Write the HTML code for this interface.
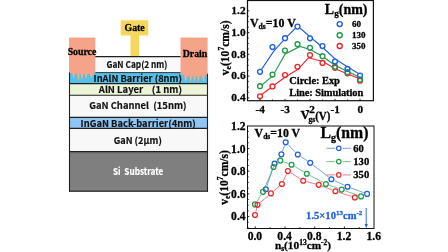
<!DOCTYPE html>
<html><head><meta charset="utf-8"><style>
html,body{margin:0;padding:0;background:#fff;}
svg{display:block;}
</style></head><body>
<svg width="448" height="252" viewBox="0 0 448 252">
<rect width="448" height="252" fill="#fff"/>
<rect x="69.0" y="72.5" width="139.0" height="11" fill="#55c1e8"/>
<rect x="69.0" y="83.5" width="139.0" height="12" fill="#ecf5d8"/>
<rect x="69.0" y="95.5" width="139.0" height="22" fill="#f8f8f8"/>
<rect x="69.0" y="117.5" width="139.0" height="11" fill="#8fc6f3"/>
<rect x="69.0" y="128.5" width="139.0" height="23" fill="#f8f8f8"/>
<rect x="69.0" y="151.5" width="139.0" height="40" fill="#7f7f7f"/>
<line x1="69.0" y1="190.1" x2="208.0" y2="190.1" stroke="#999" stroke-width="0.9"/>
<line x1="69.0" y1="153" x2="208.0" y2="153" stroke="#727272" stroke-width="1.2"/>
<rect x="95.3" y="57" width="85.2" height="15.5" fill="#f9f9f9"/>
<rect x="130.5" y="35" width="8.5" height="21.5" fill="#f7d65c"/>
<rect x="120.7" y="20.3" width="27.6" height="15.2" fill="#f7d65c"/>
<defs><linearGradient id="sp" x1="0" y1="0" x2="0" y2="1"><stop offset="0" stop-color="#f5a489"/><stop offset="0.45" stop-color="#f5a489"/><stop offset="1" stop-color="#f8b874"/></linearGradient></defs>
<polygon points="69,37.8 95.3,37.8 95.3,72.8 94,72.8 93,74.5 91.5,78.2 90,74.2 88.5,73.8 87.2,74.4 86.1,78.8 85,74.2 84,73.8 83,74.4 82,79.7 81,74.6 80.2,74.2 79.4,74.8 78.5,80.7 77.5,74.6 75.9,73.8 74.6,74.5 73.7,78.2 72.5,74.2 70.5,72.8 69,72.8" fill="#f5a489"/>
<polygon points="180.5,37.8 207.6,37.8 207.6,75 205.5,75 204.4,77.5 203.4,81.5 202.2,77 200.5,76 199.3,77 198.4,81.8 197.5,77 196.5,76 195.3,77 194.4,81.8 193.6,77 192.5,76 191.5,77 190.7,81.8 189.8,77 188,76 186.7,77.5 185.7,81.8 184.6,77 183,74.4 180.5,74.4" fill="#f5a489"/>
<line x1="69.2" y1="38.3" x2="95.1" y2="38.3" stroke="#f59e70" stroke-width="0.9"/>
<line x1="180.7" y1="38.3" x2="207.4" y2="38.3" stroke="#f59e70" stroke-width="0.9"/>
<polygon points="91.5,78.2 90.4,74.5 92.6,74.5" fill="#f8b676"/>
<polygon points="86.1,78.8 85.1,74.6 87.1,74.6" fill="#f8b676"/>
<polygon points="82,79.7 81,74.8 83,74.8" fill="#f8b676"/>
<polygon points="78.5,80.7 77.5,75 79.5,75" fill="#f8b676"/>
<polygon points="73.7,78.2 72.7,74.5 74.7,74.5" fill="#f8b676"/>
<polygon points="203.4,81.5 202.4,77.3 204.4,77.3" fill="#f8b676"/>
<polygon points="198.4,81.8 197.4,77.3 199.4,77.3" fill="#f8b676"/>
<polygon points="194.4,81.8 193.4,77.3 195.4,77.3" fill="#f8b676"/>
<polygon points="190.7,81.8 189.7,77.3 191.7,77.3" fill="#f8b676"/>
<polygon points="185.7,81.8 184.7,77.3 186.7,77.3" fill="#f8b676"/>
<line x1="95.3" y1="56.6" x2="180.5" y2="56.6" stroke="#202020" stroke-width="1.1"/>
<line x1="95.3" y1="72.6" x2="180.5" y2="72.6" stroke="#202020" stroke-width="0.9"/>
<line x1="69.0" y1="83.6" x2="208.0" y2="83.6" stroke="#202020" stroke-width="1.1"/>
<line x1="69.0" y1="95.2" x2="208.0" y2="95.2" stroke="#202020" stroke-width="1.1"/>
<line x1="69.0" y1="117.4" x2="208.0" y2="117.4" stroke="#202020" stroke-width="1.1"/>
<line x1="69.0" y1="128.4" x2="208.0" y2="128.4" stroke="#202020" stroke-width="1.1"/>
<line x1="69.0" y1="151.6" x2="208.0" y2="151.6" stroke="#202020" stroke-width="1.1"/>
<line x1="69.0" y1="72.5" x2="69.1" y2="72.5" stroke="none"/>
<line x1="69.5" y1="72.5" x2="69.5" y2="191.6" stroke="#202020" stroke-width="1.1"/>
<line x1="207.5" y1="74" x2="207.5" y2="191.6" stroke="#202020" stroke-width="1.1"/>
<line x1="69.0" y1="191.1" x2="208.0" y2="191.1" stroke="#202020" stroke-width="1.1"/>
<text x="82" y="54.7" style="font-family:'Liberation Serif',serif;font-weight:bold;stroke:#000;stroke-width:0.28px;font-size:9.8px" text-anchor="middle" fill="#000">Source</text>
<text x="134.6" y="31.3" style="font-family:'Liberation Serif',serif;font-weight:bold;stroke:#000;stroke-width:0.28px;font-size:9.8px" text-anchor="middle" fill="#000">Gate</text>
<text x="195" y="57" style="font-family:'Liberation Serif',serif;font-weight:bold;stroke:#000;stroke-width:0.28px;font-size:9.8px" text-anchor="middle" fill="#000">Drain</text>
<text x="106.5" y="68" style="font-family:'Noto Sans CJK SC',sans-serif;font-weight:bold;font-size:9.2px;stroke:#111;stroke-width:0.15px" textLength="61" lengthAdjust="spacingAndGlyphs" fill="#111">GaN Cap(2 nm)</text>
<text x="93.6" y="82.2" style="font-family:'Noto Sans CJK SC',sans-serif;font-weight:bold;font-size:9.2px;stroke:#111;stroke-width:0.15px" textLength="88.4" lengthAdjust="spacingAndGlyphs" fill="#111">InAlN Barrier (8nm)</text>
<text x="98.8" y="93.3" style="font-family:'Noto Sans CJK SC',sans-serif;font-weight:bold;font-size:9.2px;stroke:#111;stroke-width:0.15px" textLength="83.2" lengthAdjust="spacingAndGlyphs" fill="#111">AlN Layer&#160;&#160;&#160; (1 nm)</text>
<text x="89.2" y="108.6" style="font-family:'Noto Sans CJK SC',sans-serif;font-weight:bold;font-size:9.2px;stroke:#111;stroke-width:0.15px" textLength="97.4" lengthAdjust="spacingAndGlyphs" fill="#111">GaN Channel&#160; (15nm)</text>
<text x="80.6" y="126.6" style="font-family:'Noto Sans CJK SC',sans-serif;font-weight:bold;font-size:9.2px;stroke:#111;stroke-width:0.15px" textLength="115.2" lengthAdjust="spacingAndGlyphs" fill="#111">InGaN Back-barrier(4nm)</text>
<text x="113.7" y="143.8" style="font-family:'Noto Sans CJK SC',sans-serif;font-weight:bold;font-size:9.2px;stroke:#111;stroke-width:0.15px" textLength="48.2" lengthAdjust="spacingAndGlyphs" fill="#111">GaN (2&#181;m)</text>
<text x="113" y="174.8" style="font-family:'Noto Sans CJK SC',sans-serif;font-weight:bold;font-size:9.2px;stroke:#fff;stroke-width:0.15px" textLength="50.3" lengthAdjust="spacingAndGlyphs" fill="#fff">Si&#160; Substrate</text>
<rect x="247.5" y="0.5" width="125.9" height="100.2" fill="none" stroke="#111" stroke-width="1.2"/>
<line x1="247.5" y1="97.89" x2="249.3" y2="97.89" stroke="#111" stroke-width="0.9"/>
<line x1="247.5" y1="92.45" x2="248.7" y2="92.45" stroke="#111" stroke-width="0.9"/>
<line x1="247.5" y1="87.01" x2="248.7" y2="87.01" stroke="#111" stroke-width="0.9"/>
<line x1="247.5" y1="81.57" x2="248.7" y2="81.57" stroke="#111" stroke-width="0.9"/>
<line x1="247.5" y1="76.13" x2="249.3" y2="76.13" stroke="#111" stroke-width="0.9"/>
<line x1="247.5" y1="70.69" x2="248.7" y2="70.69" stroke="#111" stroke-width="0.9"/>
<line x1="247.5" y1="65.25" x2="248.7" y2="65.25" stroke="#111" stroke-width="0.9"/>
<line x1="247.5" y1="59.81" x2="248.7" y2="59.81" stroke="#111" stroke-width="0.9"/>
<line x1="247.5" y1="54.37" x2="249.3" y2="54.37" stroke="#111" stroke-width="0.9"/>
<line x1="247.5" y1="48.93" x2="248.7" y2="48.93" stroke="#111" stroke-width="0.9"/>
<line x1="247.5" y1="43.49" x2="248.7" y2="43.49" stroke="#111" stroke-width="0.9"/>
<line x1="247.5" y1="38.05" x2="248.7" y2="38.05" stroke="#111" stroke-width="0.9"/>
<line x1="247.5" y1="32.61" x2="249.3" y2="32.61" stroke="#111" stroke-width="0.9"/>
<line x1="247.5" y1="27.17" x2="248.7" y2="27.17" stroke="#111" stroke-width="0.9"/>
<line x1="247.5" y1="21.73" x2="248.7" y2="21.73" stroke="#111" stroke-width="0.9"/>
<line x1="247.5" y1="16.29" x2="248.7" y2="16.29" stroke="#111" stroke-width="0.9"/>
<line x1="247.5" y1="10.85" x2="249.3" y2="10.85" stroke="#111" stroke-width="0.9"/>
<line x1="260" y1="100.7" x2="260" y2="98.9" stroke="#111" stroke-width="0.9"/>
<line x1="272.5" y1="100.7" x2="272.5" y2="99.5" stroke="#111" stroke-width="0.9"/>
<line x1="285" y1="100.7" x2="285" y2="98.9" stroke="#111" stroke-width="0.9"/>
<line x1="297.5" y1="100.7" x2="297.5" y2="99.5" stroke="#111" stroke-width="0.9"/>
<line x1="310" y1="100.7" x2="310" y2="98.9" stroke="#111" stroke-width="0.9"/>
<line x1="322.5" y1="100.7" x2="322.5" y2="99.5" stroke="#111" stroke-width="0.9"/>
<line x1="335" y1="100.7" x2="335" y2="98.9" stroke="#111" stroke-width="0.9"/>
<line x1="347.5" y1="100.7" x2="347.5" y2="99.5" stroke="#111" stroke-width="0.9"/>
<line x1="360" y1="100.7" x2="360" y2="98.9" stroke="#111" stroke-width="0.9"/>
<text x="245.6" y="14.05" style="font-family:'Liberation Serif',serif;font-weight:bold;stroke:#000;stroke-width:0.28px;font-size:11.4px" text-anchor="end" fill="#000">1.2</text>
<text x="245.6" y="35.81" style="font-family:'Liberation Serif',serif;font-weight:bold;stroke:#000;stroke-width:0.28px;font-size:11.4px" text-anchor="end" fill="#000">1.0</text>
<text x="245.6" y="57.57" style="font-family:'Liberation Serif',serif;font-weight:bold;stroke:#000;stroke-width:0.28px;font-size:11.4px" text-anchor="end" fill="#000">0.8</text>
<text x="245.6" y="79.33" style="font-family:'Liberation Serif',serif;font-weight:bold;stroke:#000;stroke-width:0.28px;font-size:11.4px" text-anchor="end" fill="#000">0.6</text>
<text x="245.6" y="101.09" style="font-family:'Liberation Serif',serif;font-weight:bold;stroke:#000;stroke-width:0.28px;font-size:11.4px" text-anchor="end" fill="#000">0.4</text>
<text x="260.2" y="112.6" style="font-family:'Liberation Serif',serif;font-weight:bold;stroke:#000;stroke-width:0.28px;font-size:11.2px" text-anchor="middle" fill="#000">-4</text>
<text x="285.2" y="112.6" style="font-family:'Liberation Serif',serif;font-weight:bold;stroke:#000;stroke-width:0.28px;font-size:11.2px" text-anchor="middle" fill="#000">-3</text>
<text x="310.2" y="112.6" style="font-family:'Liberation Serif',serif;font-weight:bold;stroke:#000;stroke-width:0.28px;font-size:11.2px" text-anchor="middle" fill="#000">-2</text>
<text x="335.2" y="112.6" style="font-family:'Liberation Serif',serif;font-weight:bold;stroke:#000;stroke-width:0.28px;font-size:11.2px" text-anchor="middle" fill="#000">-1</text>
<text x="360.2" y="112.6" style="font-family:'Liberation Serif',serif;font-weight:bold;stroke:#000;stroke-width:0.28px;font-size:11.2px" text-anchor="middle" fill="#000">0</text>
<text x="300.6" y="119.2" style="font-family:'Liberation Serif',serif;font-weight:bold;stroke:#000;stroke-width:0.28px;font-size:12.8px" fill="#000">V</text>
<text x="308.4" y="122.2" style="font-family:'Liberation Serif',serif;font-weight:bold;stroke:#000;stroke-width:0.28px;font-size:7.6px" fill="#000">gs</text>
<text x="315.2" y="120.2" style="font-family:'Liberation Serif',serif;font-weight:bold;stroke:#000;stroke-width:0.28px;font-size:12.2px" textLength="15.2" lengthAdjust="spacingAndGlyphs" fill="#000">(V)</text>
<text transform="translate(228.6,47.8) rotate(-90)" style="font-family:'Liberation Serif',serif;font-weight:bold;stroke:#000;stroke-width:0.28px;font-size:11.6px" text-anchor="middle" fill="#000">v<tspan style="font-size:7.5px" dy="2.5">e</tspan><tspan dy="-2.5">(10</tspan><tspan style="font-size:7.5px" dy="-4.5">7</tspan><tspan dy="4.5">cm/s)</tspan></text>
<text x="250.0" y="26.9" style="font-family:'Liberation Serif',serif;font-weight:bold;stroke:#000;stroke-width:0.28px;font-size:11.9px" fill="#000">V<tspan style="font-size:7.6px" dy="2.4">ds</tspan><tspan dy="-2.4">=10 V</tspan></text>
<text x="324.8" y="13.6" style="font-family:'Liberation Serif',serif;font-weight:bold;stroke:#000;stroke-width:0.28px;font-size:14px" fill="#000">L<tspan style="font-size:9.2px" dy="2.6">g</tspan><tspan dy="-2.6">(nm)</tspan></text>
<circle cx="339.7" cy="24.1" r="2.5" fill="none" stroke="#1f5fe0" stroke-width="1.4"/>
<text x="352.0" y="26.8" style="font-family:'Liberation Serif',serif;font-weight:bold;stroke:#000;stroke-width:0.28px;font-size:9px" fill="#000">60</text>
<circle cx="339.7" cy="35.3" r="2.5" fill="none" stroke="#1e9a4a" stroke-width="1.4"/>
<text x="352.0" y="38.2" style="font-family:'Liberation Serif',serif;font-weight:bold;stroke:#000;stroke-width:0.28px;font-size:9px" fill="#000">130</text>
<circle cx="339.7" cy="46.0" r="2.5" fill="none" stroke="#f0262a" stroke-width="1.4"/>
<text x="352.0" y="49.0" style="font-family:'Liberation Serif',serif;font-weight:bold;stroke:#000;stroke-width:0.28px;font-size:9px" fill="#000">350</text>
<text x="289.3" y="83.7" style="font-family:'Liberation Serif',serif;font-weight:bold;stroke:#000;stroke-width:0.28px;font-size:10.5px" fill="#000" textLength="50.6">Circle: Exp</text>
<text x="289.3" y="96.1" style="font-family:'Liberation Serif',serif;font-weight:bold;stroke:#000;stroke-width:0.28px;font-size:10.5px" fill="#000" textLength="74">Line: Simulation</text>
<defs><mask id="mr" maskUnits="userSpaceOnUse" x="0" y="0" width="448" height="252"><rect width="448" height="252" fill="#fff"/><circle cx="260" cy="96.3" r="2.0" fill="#000"/><circle cx="272.5" cy="86.4" r="2.0" fill="#000"/><circle cx="285" cy="75" r="2.0" fill="#000"/><circle cx="297.5" cy="66.8" r="2.0" fill="#000"/><circle cx="310" cy="55" r="2.0" fill="#000"/><circle cx="322.5" cy="62.9" r="2.0" fill="#000"/><circle cx="335" cy="67.8" r="2.0" fill="#000"/><circle cx="347.5" cy="73.3" r="2.0" fill="#000"/><circle cx="360" cy="80.7" r="2.0" fill="#000"/></mask><mask id="mg" maskUnits="userSpaceOnUse" x="0" y="0" width="448" height="252"><rect width="448" height="252" fill="#fff"/><circle cx="260" cy="86.2" r="2.0" fill="#000"/><circle cx="272.5" cy="74.5" r="2.0" fill="#000"/><circle cx="285" cy="50.6" r="2.0" fill="#000"/><circle cx="297.5" cy="44.2" r="2.0" fill="#000"/><circle cx="310" cy="47.8" r="2.0" fill="#000"/><circle cx="322.5" cy="56.2" r="2.0" fill="#000"/><circle cx="335" cy="66.7" r="2.0" fill="#000"/><circle cx="347.5" cy="72.2" r="2.0" fill="#000"/><circle cx="360" cy="79.6" r="2.0" fill="#000"/></mask><mask id="mb" maskUnits="userSpaceOnUse" x="0" y="0" width="448" height="252"><rect width="448" height="252" fill="#fff"/><circle cx="260" cy="71.8" r="2.0" fill="#000"/><circle cx="272.5" cy="47" r="2.0" fill="#000"/><circle cx="285" cy="38.2" r="2.0" fill="#000"/><circle cx="297.5" cy="26.6" r="2.0" fill="#000"/><circle cx="310" cy="38.3" r="2.0" fill="#000"/><circle cx="322.5" cy="46" r="2.0" fill="#000"/><circle cx="335" cy="61.6" r="2.0" fill="#000"/><circle cx="347.5" cy="68.9" r="2.0" fill="#000"/><circle cx="360" cy="75.6" r="2.0" fill="#000"/></mask></defs>
<g mask="url(#mr)"><polyline points="260,95.8 285.2,77 297.7,69.5 308.5,57.8 322.7,61.5 335.2,68.8 347.7,74 360.2,79" fill="none" stroke="#f0262a" stroke-width="1.1" stroke-opacity="1"/></g>
<g mask="url(#mg)"><polyline points="260,86.5 272.7,76 285.2,54 300,46.4 310.2,49.5 322.7,56.5 335.2,65.5 347.7,71.5 360.2,77.5" fill="none" stroke="#1e9a4a" stroke-width="1.1" stroke-opacity="1"/></g>
<g mask="url(#mb)"><polyline points="260,71.6 273.8,51.2 285,38.6 297.7,26 310.2,37 322.7,47.5 335.2,59 347.7,67 360.2,74.5" fill="none" stroke="#1f5fe0" stroke-width="1.1" stroke-opacity="1"/></g>
<circle cx="260" cy="96.3" r="2.45" fill="none" stroke="#f0262a" stroke-width="1.35"/>
<circle cx="272.5" cy="86.4" r="2.45" fill="none" stroke="#f0262a" stroke-width="1.35"/>
<circle cx="285" cy="75.0" r="2.45" fill="none" stroke="#f0262a" stroke-width="1.35"/>
<circle cx="297.5" cy="66.8" r="2.45" fill="none" stroke="#f0262a" stroke-width="1.35"/>
<circle cx="310" cy="55.0" r="2.45" fill="none" stroke="#f0262a" stroke-width="1.35"/>
<circle cx="322.5" cy="62.9" r="2.45" fill="none" stroke="#f0262a" stroke-width="1.35"/>
<circle cx="335" cy="67.8" r="2.45" fill="none" stroke="#f0262a" stroke-width="1.35"/>
<circle cx="347.5" cy="73.3" r="2.45" fill="none" stroke="#f0262a" stroke-width="1.35"/>
<circle cx="360" cy="80.7" r="2.45" fill="none" stroke="#f0262a" stroke-width="1.35"/>
<circle cx="260" cy="86.2" r="2.45" fill="none" stroke="#1e9a4a" stroke-width="1.35"/>
<circle cx="272.5" cy="74.5" r="2.45" fill="none" stroke="#1e9a4a" stroke-width="1.35"/>
<circle cx="285" cy="50.6" r="2.45" fill="none" stroke="#1e9a4a" stroke-width="1.35"/>
<circle cx="297.5" cy="44.2" r="2.45" fill="none" stroke="#1e9a4a" stroke-width="1.35"/>
<circle cx="310" cy="47.8" r="2.45" fill="none" stroke="#1e9a4a" stroke-width="1.35"/>
<circle cx="322.5" cy="56.2" r="2.45" fill="none" stroke="#1e9a4a" stroke-width="1.35"/>
<circle cx="335" cy="66.7" r="2.45" fill="none" stroke="#1e9a4a" stroke-width="1.35"/>
<circle cx="347.5" cy="72.2" r="2.45" fill="none" stroke="#1e9a4a" stroke-width="1.35"/>
<circle cx="360" cy="79.6" r="2.45" fill="none" stroke="#1e9a4a" stroke-width="1.35"/>
<circle cx="260" cy="71.8" r="2.45" fill="none" stroke="#1f5fe0" stroke-width="1.35"/>
<circle cx="272.5" cy="47.0" r="2.45" fill="none" stroke="#1f5fe0" stroke-width="1.35"/>
<circle cx="285" cy="38.2" r="2.45" fill="none" stroke="#1f5fe0" stroke-width="1.35"/>
<circle cx="297.5" cy="26.6" r="2.45" fill="none" stroke="#1f5fe0" stroke-width="1.35"/>
<circle cx="310" cy="38.3" r="2.45" fill="none" stroke="#1f5fe0" stroke-width="1.35"/>
<circle cx="322.5" cy="46.0" r="2.45" fill="none" stroke="#1f5fe0" stroke-width="1.35"/>
<circle cx="335" cy="61.6" r="2.45" fill="none" stroke="#1f5fe0" stroke-width="1.35"/>
<circle cx="347.5" cy="68.9" r="2.45" fill="none" stroke="#1f5fe0" stroke-width="1.35"/>
<circle cx="360" cy="75.6" r="2.45" fill="none" stroke="#1f5fe0" stroke-width="1.35"/>
<rect x="247.5" y="126.0" width="126.5" height="102.5" fill="none" stroke="#111" stroke-width="1"/>
<line x1="247.5" y1="227.82" x2="248.7" y2="227.82" stroke="#111" stroke-width="0.9"/>
<line x1="247.5" y1="222.15" x2="248.7" y2="222.15" stroke="#111" stroke-width="0.9"/>
<line x1="247.5" y1="216.49" x2="249.3" y2="216.49" stroke="#111" stroke-width="0.9"/>
<line x1="247.5" y1="210.82" x2="248.7" y2="210.82" stroke="#111" stroke-width="0.9"/>
<line x1="247.5" y1="205.16" x2="248.7" y2="205.16" stroke="#111" stroke-width="0.9"/>
<line x1="247.5" y1="199.49" x2="248.7" y2="199.49" stroke="#111" stroke-width="0.9"/>
<line x1="247.5" y1="193.83" x2="249.3" y2="193.83" stroke="#111" stroke-width="0.9"/>
<line x1="247.5" y1="188.16" x2="248.7" y2="188.16" stroke="#111" stroke-width="0.9"/>
<line x1="247.5" y1="182.5" x2="248.7" y2="182.5" stroke="#111" stroke-width="0.9"/>
<line x1="247.5" y1="176.83" x2="248.7" y2="176.83" stroke="#111" stroke-width="0.9"/>
<line x1="247.5" y1="171.17" x2="249.3" y2="171.17" stroke="#111" stroke-width="0.9"/>
<line x1="247.5" y1="165.5" x2="248.7" y2="165.5" stroke="#111" stroke-width="0.9"/>
<line x1="247.5" y1="159.84" x2="248.7" y2="159.84" stroke="#111" stroke-width="0.9"/>
<line x1="247.5" y1="154.17" x2="248.7" y2="154.17" stroke="#111" stroke-width="0.9"/>
<line x1="247.5" y1="148.51" x2="249.3" y2="148.51" stroke="#111" stroke-width="0.9"/>
<line x1="247.5" y1="142.84" x2="248.7" y2="142.84" stroke="#111" stroke-width="0.9"/>
<line x1="247.5" y1="137.18" x2="248.7" y2="137.18" stroke="#111" stroke-width="0.9"/>
<line x1="247.5" y1="131.51" x2="248.7" y2="131.51" stroke="#111" stroke-width="0.9"/>
<line x1="255.3" y1="228.5" x2="255.3" y2="226.5" stroke="#111" stroke-width="0.9"/>
<line x1="270.15" y1="228.5" x2="270.15" y2="227.2" stroke="#111" stroke-width="0.9"/>
<line x1="285" y1="228.5" x2="285" y2="226.5" stroke="#111" stroke-width="0.9"/>
<line x1="299.85" y1="228.5" x2="299.85" y2="227.2" stroke="#111" stroke-width="0.9"/>
<line x1="314.7" y1="228.5" x2="314.7" y2="226.5" stroke="#111" stroke-width="0.9"/>
<line x1="329.55" y1="228.5" x2="329.55" y2="227.2" stroke="#111" stroke-width="0.9"/>
<line x1="344.4" y1="228.5" x2="344.4" y2="226.5" stroke="#111" stroke-width="0.9"/>
<line x1="359.25" y1="228.5" x2="359.25" y2="227.2" stroke="#111" stroke-width="0.9"/>
<text x="245.6" y="129.85" style="font-family:'Liberation Serif',serif;font-weight:bold;stroke:#000;stroke-width:0.28px;font-size:11.6px" text-anchor="end" fill="#000">1.2</text>
<text x="245.6" y="152.51" style="font-family:'Liberation Serif',serif;font-weight:bold;stroke:#000;stroke-width:0.28px;font-size:11.6px" text-anchor="end" fill="#000">1.0</text>
<text x="245.6" y="175.17" style="font-family:'Liberation Serif',serif;font-weight:bold;stroke:#000;stroke-width:0.28px;font-size:11.6px" text-anchor="end" fill="#000">0.8</text>
<text x="245.6" y="197.83" style="font-family:'Liberation Serif',serif;font-weight:bold;stroke:#000;stroke-width:0.28px;font-size:11.6px" text-anchor="end" fill="#000">0.6</text>
<text x="245.6" y="220.49" style="font-family:'Liberation Serif',serif;font-weight:bold;stroke:#000;stroke-width:0.28px;font-size:11.6px" text-anchor="end" fill="#000">0.4</text>
<text x="254.9" y="240.4" style="font-family:'Liberation Serif',serif;font-weight:bold;stroke:#000;stroke-width:0.28px;font-size:11.6px" text-anchor="middle" fill="#000">0.0</text>
<text x="284.6" y="240.4" style="font-family:'Liberation Serif',serif;font-weight:bold;stroke:#000;stroke-width:0.28px;font-size:11.6px" text-anchor="middle" fill="#000">0.4</text>
<text x="314.3" y="240.4" style="font-family:'Liberation Serif',serif;font-weight:bold;stroke:#000;stroke-width:0.28px;font-size:11.6px" text-anchor="middle" fill="#000">0.8</text>
<text x="344" y="240.4" style="font-family:'Liberation Serif',serif;font-weight:bold;stroke:#000;stroke-width:0.28px;font-size:11.6px" text-anchor="middle" fill="#000">1.2</text>
<text x="373.7" y="240.4" style="font-family:'Liberation Serif',serif;font-weight:bold;stroke:#000;stroke-width:0.28px;font-size:11.6px" text-anchor="middle" fill="#000">1.6</text>
<text x="274.9" y="248.9" style="font-family:'Liberation Serif',serif;font-weight:bold;stroke:#000;stroke-width:0.28px;font-size:11.3px" fill="#000">n<tspan style="font-size:7.5px" dy="2">s</tspan><tspan dy="-2">(10</tspan><tspan style="font-size:7.5px" dy="-4.3">13</tspan><tspan dy="4.3">cm</tspan><tspan style="font-size:7.5px" dy="-4.3">-2</tspan><tspan dy="4.3">)</tspan></text>
<text transform="translate(227.6,177.4) rotate(-90)" style="font-family:'Liberation Serif',serif;font-weight:bold;stroke:#000;stroke-width:0.28px;font-size:11.6px" text-anchor="middle" fill="#000">v<tspan style="font-size:7.5px" dy="2.5">e</tspan><tspan dy="-2.5">(10</tspan><tspan style="font-size:7.5px" dy="-4.5">7</tspan><tspan dy="4.5">cm/s)</tspan></text>
<text x="254.6" y="136.5" style="font-family:'Liberation Serif',serif;font-weight:bold;stroke:#000;stroke-width:0.28px;font-size:11.8px" fill="#000">V<tspan style="font-size:7.6px" dy="2.4">ds</tspan><tspan dy="-2.4">=10 V</tspan></text>
<text x="320.5" y="138.4" style="font-family:'Liberation Serif',serif;font-weight:bold;stroke:#000;stroke-width:0.28px;font-size:15.8px" fill="#000">L<tspan style="font-size:10px" dy="2.6">g</tspan><tspan dy="-2.6">(nm)</tspan></text>
<line x1="326.5" y1="148.3" x2="335" y2="148.3" stroke="#1f5fe0" stroke-width="1" stroke-opacity="0.6"/>
<line x1="342.6" y1="148.3" x2="350.8" y2="148.3" stroke="#1f5fe0" stroke-width="1" stroke-opacity="0.6"/>
<circle cx="338.8" cy="148.3" r="2.2" fill="#fff" stroke="#1f5fe0" stroke-width="1.2"/>
<text x="353.3" y="151.8" style="font-family:'Liberation Serif',serif;font-weight:bold;stroke:#000;stroke-width:0.28px;font-size:10.6px" fill="#000">60</text>
<line x1="326.5" y1="161.6" x2="335" y2="161.6" stroke="#1e9a4a" stroke-width="1" stroke-opacity="0.6"/>
<line x1="342.6" y1="161.6" x2="350.8" y2="161.6" stroke="#1e9a4a" stroke-width="1" stroke-opacity="0.6"/>
<circle cx="338.8" cy="161.6" r="2.2" fill="#fff" stroke="#1e9a4a" stroke-width="1.2"/>
<text x="353.3" y="164.9" style="font-family:'Liberation Serif',serif;font-weight:bold;stroke:#000;stroke-width:0.28px;font-size:10.6px" fill="#000">130</text>
<line x1="326.5" y1="174.9" x2="335" y2="174.9" stroke="#f0262a" stroke-width="1" stroke-opacity="0.6"/>
<line x1="342.6" y1="174.9" x2="350.8" y2="174.9" stroke="#f0262a" stroke-width="1" stroke-opacity="0.6"/>
<circle cx="338.8" cy="174.9" r="2.2" fill="#fff" stroke="#f0262a" stroke-width="1.2"/>
<text x="353.3" y="178.2" style="font-family:'Liberation Serif',serif;font-weight:bold;stroke:#000;stroke-width:0.28px;font-size:10.6px" fill="#000">350</text>
<defs><mask id="nb" maskUnits="userSpaceOnUse" x="0" y="0" width="448" height="252"><rect width="448" height="252" fill="#fff"/><circle cx="265.8" cy="189.2" r="3.4" fill="#000"/><circle cx="274.6" cy="163.5" r="3.4" fill="#000"/><circle cx="281.4" cy="154.3" r="3.4" fill="#000"/><circle cx="285.7" cy="142.3" r="3.4" fill="#000"/><circle cx="297.8" cy="154.5" r="3.4" fill="#000"/><circle cx="310.2" cy="162.8" r="3.4" fill="#000"/><circle cx="331.4" cy="179.2" r="3.4" fill="#000"/><circle cx="347.6" cy="186.7" r="3.4" fill="#000"/><circle cx="367.1" cy="193.9" r="3.4" fill="#000"/></mask><mask id="ng" maskUnits="userSpaceOnUse" x="0" y="0" width="448" height="252"><rect width="448" height="252" fill="#fff"/><circle cx="255" cy="204.4" r="3.4" fill="#000"/><circle cx="263" cy="191.8" r="3.4" fill="#000"/><circle cx="273.5" cy="167" r="3.4" fill="#000"/><circle cx="280.3" cy="160.6" r="3.4" fill="#000"/><circle cx="291.6" cy="164.7" r="3.4" fill="#000"/><circle cx="306.8" cy="173.7" r="3.4" fill="#000"/><circle cx="325.9" cy="184" r="3.4" fill="#000"/><circle cx="341.7" cy="189.6" r="3.4" fill="#000"/><circle cx="361.1" cy="196.4" r="3.4" fill="#000"/></mask><mask id="nr" maskUnits="userSpaceOnUse" x="0" y="0" width="448" height="252"><rect width="448" height="252" fill="#fff"/><circle cx="255" cy="215" r="3.4" fill="#000"/><circle cx="257.5" cy="204.8" r="3.4" fill="#000"/><circle cx="270.9" cy="193.4" r="3.4" fill="#000"/><circle cx="281.9" cy="184" r="3.4" fill="#000"/><circle cx="287.9" cy="171.1" r="3.4" fill="#000"/><circle cx="303.2" cy="180.7" r="3.4" fill="#000"/><circle cx="318.7" cy="184.8" r="3.4" fill="#000"/><circle cx="335.4" cy="191.2" r="3.4" fill="#000"/><circle cx="354.8" cy="197.5" r="3.4" fill="#000"/></mask></defs>
<g mask="url(#nb)"><polyline points="265.8,189.2 274.6,163.5 281.4,154.3 285.7,142.3 297.8,154.5 310.2,162.8 331.4,179.2 347.6,186.7 367.1,193.9" fill="none" stroke="#1f5fe0" stroke-width="1.0" stroke-opacity="0.6"/></g>
<g mask="url(#ng)"><polyline points="255,204.4 263,191.8 273.5,167 280.3,160.6 291.6,164.7 306.8,173.7 325.9,184 341.7,189.6 361.1,196.4" fill="none" stroke="#1e9a4a" stroke-width="1.0" stroke-opacity="0.6"/></g>
<g mask="url(#nr)"><polyline points="255,215 257.5,204.8 270.9,193.4 281.9,184 287.9,171.1 303.2,180.7 318.7,184.8 335.4,191.2 354.8,197.5" fill="none" stroke="#f0262a" stroke-width="1.0" stroke-opacity="0.6"/></g>
<circle cx="265.8" cy="189.2" r="2.45" fill="none" stroke="#1f5fe0" stroke-width="1.25"/>
<circle cx="274.6" cy="163.5" r="2.45" fill="none" stroke="#1f5fe0" stroke-width="1.25"/>
<circle cx="281.4" cy="154.3" r="2.45" fill="none" stroke="#1f5fe0" stroke-width="1.25"/>
<circle cx="285.7" cy="142.3" r="2.45" fill="none" stroke="#1f5fe0" stroke-width="1.25"/>
<circle cx="297.8" cy="154.5" r="2.45" fill="none" stroke="#1f5fe0" stroke-width="1.25"/>
<circle cx="310.2" cy="162.8" r="2.45" fill="none" stroke="#1f5fe0" stroke-width="1.25"/>
<circle cx="331.4" cy="179.2" r="2.45" fill="none" stroke="#1f5fe0" stroke-width="1.25"/>
<circle cx="347.6" cy="186.7" r="2.45" fill="none" stroke="#1f5fe0" stroke-width="1.25"/>
<circle cx="367.1" cy="193.9" r="2.45" fill="none" stroke="#1f5fe0" stroke-width="1.25"/>
<circle cx="255" cy="204.4" r="2.45" fill="none" stroke="#1e9a4a" stroke-width="1.25"/>
<circle cx="263" cy="191.8" r="2.45" fill="none" stroke="#1e9a4a" stroke-width="1.25"/>
<circle cx="273.5" cy="167" r="2.45" fill="none" stroke="#1e9a4a" stroke-width="1.25"/>
<circle cx="280.3" cy="160.6" r="2.45" fill="none" stroke="#1e9a4a" stroke-width="1.25"/>
<circle cx="291.6" cy="164.7" r="2.45" fill="none" stroke="#1e9a4a" stroke-width="1.25"/>
<circle cx="306.8" cy="173.7" r="2.45" fill="none" stroke="#1e9a4a" stroke-width="1.25"/>
<circle cx="325.9" cy="184" r="2.45" fill="none" stroke="#1e9a4a" stroke-width="1.25"/>
<circle cx="341.7" cy="189.6" r="2.45" fill="none" stroke="#1e9a4a" stroke-width="1.25"/>
<circle cx="361.1" cy="196.4" r="2.45" fill="none" stroke="#1e9a4a" stroke-width="1.25"/>
<circle cx="255" cy="215" r="2.45" fill="none" stroke="#f0262a" stroke-width="1.25"/>
<circle cx="257.5" cy="204.8" r="2.45" fill="none" stroke="#f0262a" stroke-width="1.25"/>
<circle cx="270.9" cy="193.4" r="2.45" fill="none" stroke="#f0262a" stroke-width="1.25"/>
<circle cx="281.9" cy="184" r="2.45" fill="none" stroke="#f0262a" stroke-width="1.25"/>
<circle cx="287.9" cy="171.1" r="2.45" fill="none" stroke="#f0262a" stroke-width="1.25"/>
<circle cx="303.2" cy="180.7" r="2.45" fill="none" stroke="#f0262a" stroke-width="1.25"/>
<circle cx="318.7" cy="184.8" r="2.45" fill="none" stroke="#f0262a" stroke-width="1.25"/>
<circle cx="335.4" cy="191.2" r="2.45" fill="none" stroke="#f0262a" stroke-width="1.25"/>
<circle cx="354.8" cy="197.5" r="2.45" fill="none" stroke="#f0262a" stroke-width="1.25"/>
<text x="306.1" y="219.3" style="font-family:'Liberation Serif',serif;font-weight:bold;stroke:#000;stroke-width:0.28px;font-size:10.6px;stroke:#1f5fe0" fill="#1f5fe0">1.5&#215;10<tspan style="font-size:7px" dy="-4.2">13</tspan><tspan dy="4.2">cm</tspan><tspan style="font-size:7px" dy="-4.2">-2</tspan></text>
<line x1="366.2" y1="208" x2="366.2" y2="225" stroke="#1f5fe0" stroke-width="0.9"/>
<polygon points="364.6,224 367.8,224 366.2,228.3" fill="#1f5fe0"/>
</svg>
</body></html>
